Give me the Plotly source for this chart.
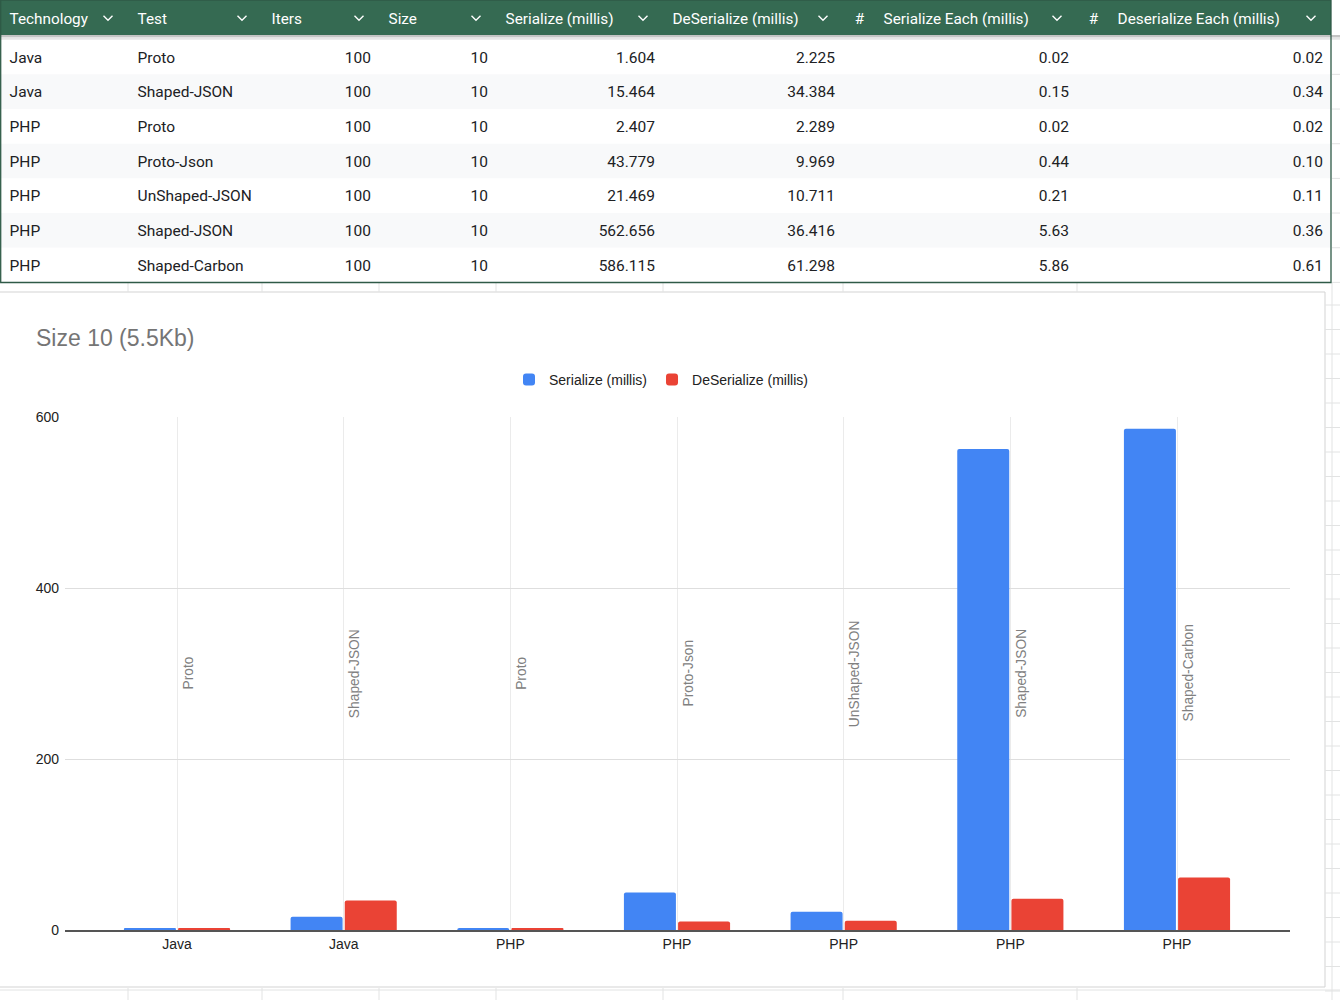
import plotly.graph_objects as go

W, H = 1340, 1000

# ---------------- data ----------------
technology = ["Java", "Java", "PHP", "PHP", "PHP", "PHP", "PHP"]
test = ["Proto", "Shaped-JSON", "Proto", "Proto-Json", "UnShaped-JSON", "Shaped-JSON", "Shaped-Carbon"]
iters = [100, 100, 100, 100, 100, 100, 100]
size = [10, 10, 10, 10, 10, 10, 10]
serialize = [1.604, 15.464, 2.407, 43.779, 21.469, 562.656, 586.115]
deserialize = [2.225, 34.384, 2.289, 9.969, 10.711, 36.416, 61.298]
serialize_each = [0.02, 0.15, 0.02, 0.44, 0.21, 5.63, 5.86]
deserialize_each = [0.02, 0.34, 0.02, 0.10, 0.11, 0.36, 0.61]

headers = ["Technology", "Test", "Iters", "Size", "Serialize (millis)",
           "DeSerialize (millis)", "Serialize Each (millis)", "Deserialize Each (millis)"]
numeric_header = [False, False, False, False, False, False, True, True]
y_ticks = [0, 200, 400, 600]
chart_title = "Size 10 (5.5Kb)"
series_names = ["Serialize (millis)", "DeSerialize (millis)"]

# ---------------- layout helpers (pixels -> paper) ----------------
def px(x):
    return x / W

def py(y):
    return 1 - y / H

col_edges = [0, 128, 262, 379, 496, 663, 843, 1077, 1331]
col_widths = [col_edges[i + 1] - col_edges[i] for i in range(len(col_edges) - 1)]
GREEN = "#356a52"
BLUE = "#4285f4"
RED = "#ea4335"
GRID_SHEET = "#e2e3e3"
CLEAR = "rgba(0,0,0,0)"

ROW_TOP = 39.7      # first data row top (px)
ROW_H = 34.67       # data row height (px)
TABLE_SHIFT = 5     # vertical offset of the table trace text
HEADER_H = 38

n = len(technology)
row_fill = ["#ffffff" if i % 2 == 0 else "#f8f9fa" for i in range(n)]

HS = "\u200a"  # small left padding for left-aligned text
header_text = []
for h, isnum in zip(headers, numeric_header):
    if isnum:
        header_text.append("\u00a0#\u2003\u00a0" + h)
    else:
        header_text.append(HS + h)

table = go.Table(
    domain=dict(x=[0, px(1331)], y=[py(TABLE_SHIFT + HEADER_H + n * ROW_H + 1.5), py(TABLE_SHIFT)]),
    columnwidth=col_widths,
    header=dict(
        values=header_text,
        fill=dict(color=CLEAR),
        line=dict(color=CLEAR, width=0),
        font=dict(family="Roboto", size=15.3, color="white"),
        align="left",
        height=HEADER_H,
    ),
    cells=dict(
        values=[[HS + t for t in technology], [HS + t for t in test], iters, size,
                serialize, deserialize, serialize_each, deserialize_each],
        format=["", "", "", "", ".3f", ".3f", ".2f", ".2f"],
        fill=dict(color=CLEAR),
        line=dict(color=CLEAR, width=0),
        font=dict(family="Roboto", size=15.5, color="#202124"),
        align=["left", "left", "right", "right", "right", "right", "right", "right"],
        height=ROW_H,
    ),
)

xs = list(range(n))
bar_ser = go.Bar(x=xs, y=serialize, name=series_names[0], marker=dict(color=BLUE, cornerradius=2, line=dict(width=0)),
                 hoverinfo="skip")
bar_des = go.Bar(x=xs, y=deserialize, name=series_names[1], marker=dict(color=RED, cornerradius=2, line=dict(width=0)),
                 hoverinfo="skip")

fig = go.Figure([table, bar_ser, bar_des])

shapes = []
# header bar
shapes.append(dict(type="rect", xref="paper", yref="paper", x0=0, x1=px(1331), y0=py(35), y1=1,
                   line=dict(width=0), fillcolor=GREEN, layer="below"))
# row stripes
for r in range(n):
    shapes.append(dict(type="rect", xref="paper", yref="paper", x0=0, x1=px(1331),
                       y0=py(ROW_TOP + (r + 1) * ROW_H), y1=py(ROW_TOP + r * ROW_H),
                       line=dict(width=0), fillcolor=row_fill[r], layer="below"))
# chart card
shapes.append(dict(type="rect", xref="paper", yref="paper", x0=-0.01, x1=px(1325), y0=py(987), y1=py(292),
                   line=dict(color="#d3d3d3", width=1), fillcolor="white", layer="below"))
# sheet grid: vertical lines between table and card, and below the card
for e in col_edges[1:-1]:
    shapes.append(dict(type="line", xref="paper", yref="paper", x0=px(e), x1=px(e), y0=py(283), y1=py(292),
                       line=dict(color=GRID_SHEET, width=1), layer="below"))
    shapes.append(dict(type="line", xref="paper", yref="paper", x0=px(e), x1=px(e), y0=py(988), y1=py(1000),
                       line=dict(color=GRID_SHEET, width=1), layer="below"))
shapes.append(dict(type="line", xref="paper", yref="paper", x0=0, x1=1, y0=py(990), y1=py(990),
                   line=dict(color=GRID_SHEET, width=1), layer="below"))
# right strip grid
shapes.append(dict(type="line", xref="paper", yref="paper", x0=px(1332), x1=px(1332), y0=py(282), y1=0,
                   line=dict(color=GRID_SHEET, width=1), layer="below"))
for k in range(1, 30):
    yy = 280.5 + 24.5 * k
    shapes.append(dict(type="line", xref="paper", yref="paper", x0=px(1325), x1=1, y0=py(yy), y1=py(yy),
                       line=dict(color=GRID_SHEET, width=1), layer="below"))
for r in range(1, n + 1):
    yy = ROW_TOP + ROW_H * r
    shapes.append(dict(type="line", xref="paper", yref="paper", x0=px(1332), x1=1, y0=py(yy), y1=py(yy),
                       line=dict(color=GRID_SHEET, width=1), layer="below"))
# header shadow
shapes.append(dict(type="rect", xref="paper", yref="paper", x0=0, x1=px(1340), y0=py(37.5), y1=py(35),
                   line=dict(width=0), fillcolor="#c4c4c4", layer="above"))
shapes.append(dict(type="rect", xref="paper", yref="paper", x0=0, x1=px(1340), y0=py(39.7), y1=py(37.5),
                   line=dict(width=0), fillcolor="#e6e6e6", layer="above"))
# table border
shapes.append(dict(type="rect", xref="paper", yref="paper", x0=px(0.7), x1=px(1331), y0=py(282.5), y1=py(0),
                   line=dict(color="#2f5a47", width=1.3), fillcolor=CLEAR, layer="above"))
# header chevrons
for i in range(len(headers)):
    cx = col_edges[i + 1] - 20
    cy = 18
    path = "M {} {} L {} {} L {} {}".format(px(cx - 4.5), py(cy - 2.2), px(cx), py(cy + 2.2), px(cx + 4.5), py(cy - 2.2))
    shapes.append(dict(type="path", xref="paper", yref="paper", path=path,
                       line=dict(color="white", width=1.4), layer="above"))

annotations = [
    dict(text=chart_title, xref="paper", yref="paper", x=px(34), y=py(338), xanchor="left", yanchor="middle",
         showarrow=False, font=dict(family="Arial, Liberation Sans", size=23, color="#757575")),
]
for i, t in enumerate(test):
    annotations.append(dict(text=t, x=i, y=300, xref="x", yref="y", xshift=11, textangle=-90,
                            showarrow=False, font=dict(family="Arial, Liberation Sans", size=13.8, color="#808080")))

fig.update_layout(
    width=W, height=H,
    margin=dict(l=0, r=0, t=0, b=0, autoexpand=False),
    paper_bgcolor="white", plot_bgcolor=CLEAR,
    barmode="group", bargap=0.35, bargroupgap=0.04,
    font=dict(family="Arial, Liberation Sans", size=14, color="#222222"),
    showlegend=True,
    legend=dict(orientation="h", x=px(661), xanchor="center", y=py(380), yanchor="middle",
                font=dict(size=14, color="#222222"), itemclick=False, bgcolor=CLEAR),
    shapes=shapes,
    annotations=annotations,
    xaxis=dict(domain=[px(65), px(1290)], range=[-0.672, 6.678], tickvals=xs, ticktext=technology,
               showgrid=True, gridcolor="#ebebeb", gridwidth=1, showline=True, linecolor="#555555", linewidth=2,
               ticks="", zeroline=False, fixedrange=True, automargin=False, tickfont=dict(size=14, color="#222222")),
    yaxis=dict(domain=[py(930), py(417)], range=[0, 600], tickvals=y_ticks, showgrid=True, gridcolor="#dedede",
               zeroline=False, ticks="", fixedrange=True, automargin=False, ticklabelstandoff=5,
               tickfont=dict(size=14, color="#222222")),
)

fig.write_html("out.html", config={"displayModeBar": False},
               post_script="document.body.style.margin='0';document.body.style.overflow='hidden';")
